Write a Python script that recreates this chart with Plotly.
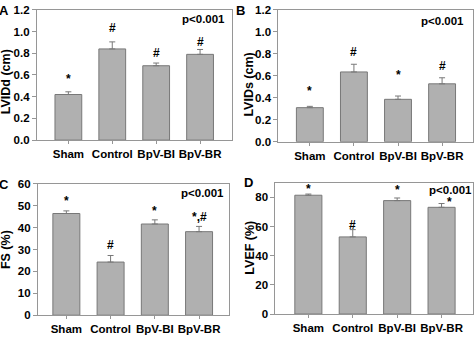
import plotly.graph_objects as go

W, H = 474, 340

groups = ["Sham", "Control", "BpV-BI", "BpV-BR"]

lvidd = [0.42, 0.84, 0.685, 0.79]
lvidd_err = [0.025, 0.065, 0.025, 0.045]
lvidd_marks = ["*", "#", "#", "#"]
lvidd_mark_y = [0.56, 1.03, 0.80, 0.90]

lvids = [0.31, 0.635, 0.386, 0.527]
lvids_err = [0.012, 0.07, 0.03, 0.055]
lvids_marks = ["*", "#", "*", "#"]
lvids_mark_y = [0.46, 0.82, 0.61, 0.69]

fs = [46.5, 24.3, 41.7, 38.2]
fs_err = [1.2, 3.0, 1.9, 2.4]
fs_marks = ["*", "#", "*", "*,#"]
fs_mark_y = [52.0, 32.0, 47.5, 45.0]

lvef = [81.5, 52.9, 77.8, 73.2]
lvef_err = [0.8, 5.0, 1.8, 2.6]
lvef_marks = ["*", "#", "*", "*"]
lvef_mark_y = [86.0, 61.0, 85.0, 77.0]

FONT = "Arial, Liberation Sans, sans-serif"
BAR_FILL = "rgb(176,176,176)"
BAR_LINE = "rgb(120,120,120)"
AXIS_COL = "rgb(150,150,150)"
TICK_SIZE = 11.5


def px_x(p):
    return p / W


def px_y(p):
    return 1 - p / H


panels = [
    dict(v=lvidd, e=lvidd_err, m=lvidd_marks, my=lvidd_mark_y,
         xd=(37, 232), yd=(4, 139), xr=(-0.716, 3.716), yr=(0, 1.2), dt=0.2, tf=".1f",
         title="LVIDd (cm)", tpos=(6, 78), letter="A", lpos=(4, 5),
         p=(204, 1.12)),
    dict(v=lvids, e=lvids_err, m=lvids_marks, my=lvids_mark_y,
         xd=(279, 473.5), yd=(4, 140.7), xr=(-0.713, 3.69), yr=(0, 1.2), dt=0.2, tf=".1f",
         title="LVIDs (cm)", tpos=(250, 81), letter="B", lpos=(241, 5),
         p=(443, 1.095)),
    dict(v=fs, e=fs_err, m=fs_marks, my=fs_mark_y,
         xd=(38, 229), yd=(184.5, 320.5), xr=(-0.643, 3.666), yr=(0, 60), dt=10, tf="d",
         title="FS (%)", tpos=(6, 252), letter="C", lpos=(4, 185),
         p=(203, 55.7)),
    dict(v=lvef, e=lvef_err, m=lvef_marks, my=lvef_mark_y,
         xd=(276, 473.5), yd=(183.3, 319.3), xr=(-0.742, 3.697), yr=(0, 90), dt=20, tf="d",
         title="LVEF (%)", tpos=(251, 250), letter="D", lpos=(249, 183),
         p=(451, 84.8)),
]

fig = go.Figure()
annotations = []

for i, pnl in enumerate(panels, start=1):
    xa = "x" if i == 1 else f"x{i}"
    ya = "y" if i == 1 else f"y{i}"
    fig.add_trace(go.Bar(
        x=groups, y=pnl["v"], xaxis=xa, yaxis=ya, width=0.61,
        marker=dict(color=BAR_FILL, line=dict(color=BAR_LINE, width=1)),
        error_y=dict(type="data", array=pnl["e"], arrayminus=[0] * 4, symmetric=False,
                     color=BAR_LINE, thickness=1, width=3),
        showlegend=False, hoverinfo="skip",
    ))
    xkey = "xaxis" if i == 1 else f"xaxis{i}"
    ykey = "yaxis" if i == 1 else f"yaxis{i}"
    fig.update_layout({
        xkey: dict(domain=[px_x(pnl["xd"][0]), px_x(pnl["xd"][1])], anchor=ya,
                   range=list(pnl["xr"]), type="category", categoryorder="array",
                   categoryarray=groups, showline=True, mirror=True, linecolor=AXIS_COL,
                   linewidth=1, ticks="outside", ticklen=3, tickcolor=AXIS_COL,
                   showgrid=False, zeroline=False,
                   tickfont=dict(family=FONT, size=TICK_SIZE, color="black", weight="bold")),
        ykey: dict(domain=[px_y(pnl["yd"][1]), px_y(pnl["yd"][0])], anchor=xa,
                   range=list(pnl["yr"]), dtick=pnl["dt"], tick0=0, tickformat=pnl["tf"],
                   showline=True, mirror=True, linecolor=AXIS_COL, linewidth=1,
                   ticks="outside", ticklen=4, tickcolor=AXIS_COL, showgrid=False,
                   zeroline=False,
                   tickfont=dict(family=FONT, size=TICK_SIZE, color="black", weight="bold")),
    })
    xref = "x" if i == 1 else f"x{i}"
    yref = "y" if i == 1 else f"y{i}"
    for gi, (mk, my) in enumerate(zip(pnl["m"], pnl["my"])):
        xshift = 0
        if i == 4 and gi == 3:
            xshift = 8
        annotations.append(dict(x=groups[gi], y=my, xref=xref, yref=yref, text=mk,
                                showarrow=False, xshift=xshift,
                                font=dict(family=FONT, size=12, color="black", weight="bold")))
    annotations.append(dict(x=px_x(pnl["p"][0]), y=pnl["p"][1], xref="paper", yref=yref,
                            text="p<0.001", showarrow=False, xanchor="center",
                            font=dict(family=FONT, size=11.5, color="black", weight="bold")))
    annotations.append(dict(x=px_x(pnl["tpos"][0]), y=px_y(pnl["tpos"][1]), xref="paper",
                            yref="paper", text=pnl["title"], textangle=-90, showarrow=False,
                            xanchor="center", yanchor="middle",
                            font=dict(family=FONT, size=12.5, color="black", weight="bold")))
    annotations.append(dict(x=px_x(pnl["lpos"][0]), y=px_y(pnl["lpos"][1]), xref="paper",
                            yref="paper", text=pnl["letter"], showarrow=False,
                            xanchor="center", yanchor="middle",
                            font=dict(family=FONT, size=13, color="black", weight="bold")))

fig.update_layout(
    width=W, height=H, margin=dict(l=0, r=0, t=0, b=0),
    paper_bgcolor="white", plot_bgcolor="white",
    annotations=annotations, bargap=0.4,
)

fig.write_html("out.html")
